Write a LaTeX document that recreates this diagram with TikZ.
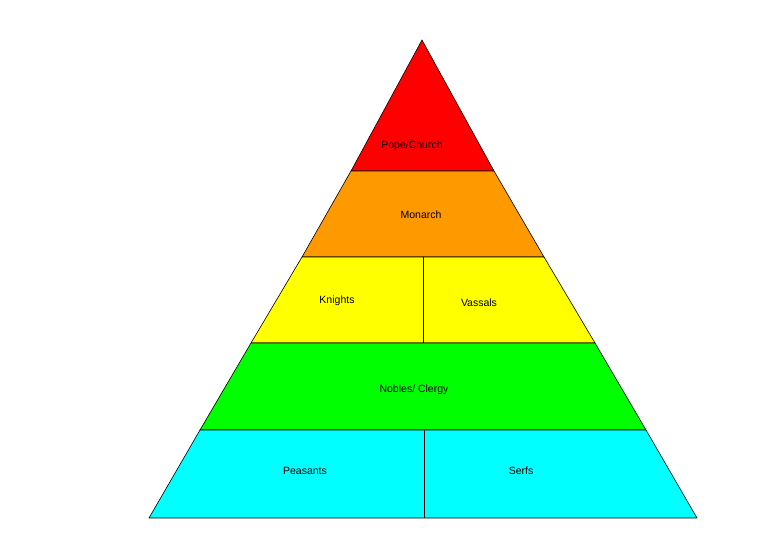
\documentclass[tikz,border=0pt]{standalone}
\usepackage{fontspec}
\setmainfont{Liberation Sans}
\definecolor{tierred}{RGB}{255,0,0}
\definecolor{tierorange}{RGB}{255,153,0}
\definecolor{tieryellow}{RGB}{255,255,0}
\definecolor{tiergreen}{RGB}{0,255,0}
\definecolor{tiercyan}{RGB}{0,255,255}
\begin{document}
\begin{tikzpicture}[x=1pt,y=-1pt,
      tier/.style={draw=black,line width=0.6pt},
      lbl/.style={font=\fontsize{10.5}{12}\selectfont}]
      \useasboundingbox (0,0) rectangle (768,544);
      % layers from the top down
      \filldraw[tier,fill=tierred] (422,40) -- (494,171) -- (351,171) -- cycle;
      \filldraw[tier,fill=tierorange] (351,171) -- (494,171) -- (544,257) -- (302,257) -- cycle;
      \filldraw[tier,fill=tieryellow] (302,257) -- (544,257) -- (595,343) -- (251,343) -- cycle;
      \filldraw[tier,fill=tiergreen] (251,343) -- (595,343) -- (646,430) -- (200,430) -- cycle;
      \filldraw[tier,fill=tiercyan] (200,430) -- (646,430) -- (697,518) -- (149,518) -- cycle;
      \coordinate (kvtop) at (423,257);
      \coordinate (kvbot) at (423,343);
      \coordinate (pstop) at (424,430);
      \coordinate (psbot) at (424,518);
      \draw[tier] (kvtop) -- (kvbot);
      \draw[tier] (pstop) -- (psbot);
      \node[lbl] (pope)     at (412,146) {Pope/Church};
      \node[lbl] (monarch)  at (421,215) {Monarch};
      \node[lbl] (knights)  at (337,301) {Knights};
      \node[lbl] (vassals)  at (479,303) {Vassals};
      \node[lbl] (nobles)   at (414,390) {Nobles/ Clergy};
      \node[lbl] (peasants) at (305,471) {Peasants};
      \node[lbl] (serfs)    at (521,471) {Serfs};
\end{tikzpicture}
\end{document}
